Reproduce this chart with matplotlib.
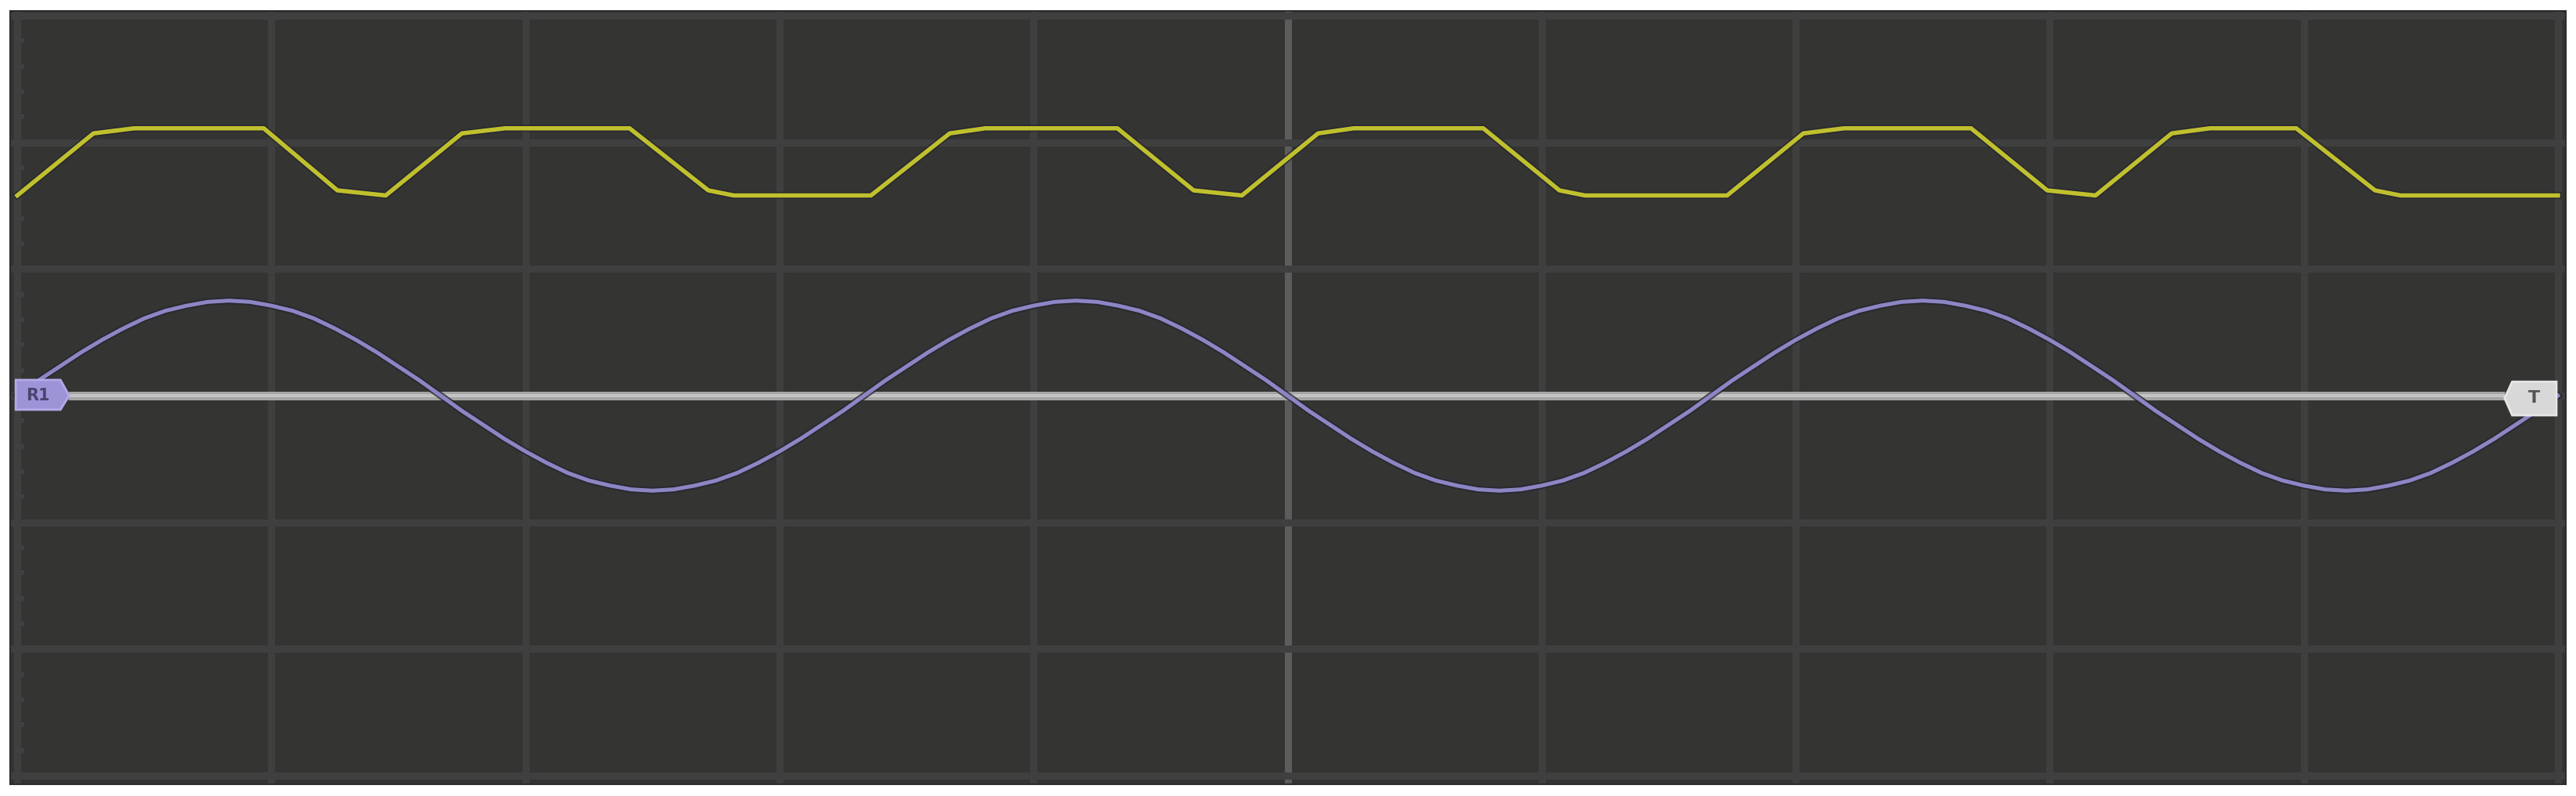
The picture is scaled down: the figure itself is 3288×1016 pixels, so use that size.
import numpy as np
import matplotlib
matplotlib.use("Agg")
import matplotlib.pyplot as plt
import matplotlib.patheffects as pe
from matplotlib.patches import Polygon

# Scope screen: 10 horizontal divisions, 6 vertical divisions (centre = 0)
n_xdiv = 10
n_ydiv = 6

# Channel 1 (yellow): trapezoid digital-like signal, vertex positions in divisions
yellow_t = [0.00, 0.30, 0.46, 0.97, 1.26, 1.45, 1.75, 1.92, 2.41, 2.72, 2.82,
            3.36, 3.67, 3.81, 4.33, 4.63, 4.82, 5.12, 5.26, 5.77, 6.07, 6.17,
            6.73, 7.03, 7.19, 7.69, 7.99, 8.18, 8.48, 8.63, 8.97, 9.28, 9.38,
            10.00]
yellow_v = [1.58, 2.07, 2.11, 2.11, 1.62, 1.58, 2.07, 2.11, 2.11, 1.62, 1.58,
            1.58, 2.07, 2.11, 2.11, 1.62, 1.58, 2.07, 2.11, 2.11, 1.62, 1.58,
            1.58, 2.07, 2.11, 2.11, 1.62, 1.58, 2.07, 2.11, 2.11, 1.62, 1.58,
            1.58]

# Reference channel (purple): one period read off the screen, sampled every
# 1/12 division; the screen shows three identical periods
purple_dt = 1 / 12
purple_period = [0.00, 0.12, 0.23, 0.34, 0.44, 0.53, 0.61, 0.67, 0.71, 0.74,
                 0.75, 0.74, 0.71, 0.67, 0.61, 0.53, 0.44, 0.34, 0.23, 0.12,
                 0.00, -0.12, -0.23, -0.34, -0.44, -0.53, -0.61, -0.67, -0.71, -0.74,
                 -0.75, -0.74, -0.71, -0.67, -0.61, -0.53, -0.44, -0.34, -0.23, -0.12]
purple_v = purple_period * 3 + [0.00]
purple_t = np.arange(len(purple_v)) * purple_dt

# Gray trace (offset line)
gray_t = [0.20, 9.79]
gray_v = [0.0, 0.0]

left_label = "R1"
right_label = "T"

W, H, DPI = 3288, 1016, 100
fig = plt.figure(figsize=(W / DPI, H / DPI), dpi=DPI, facecolor="white")
ax = fig.add_axes([13 / W, 15 / H, 3262 / W, 987 / H])
ax.set_facecolor("#343433")
ax.set_xlim(-0.028, 10.031)
ax.set_ylim(-3.067, 3.036)
ax.set_xticks([])
ax.set_yticks([])
for s in ax.spines.values():
    s.set_color("#2c2c2c")
    s.set_linewidth(1.5)

px = 72 / DPI  # points per pixel

# grid
for i in range(n_xdiv + 1):
    c = "#5c5c5c" if i == n_xdiv // 2 else "#3f3f3f"
    ax.axvline(i, color=c, lw=9 * px, zorder=1)
for j in range(-n_ydiv // 2, n_ydiv // 2 + 1):
    ax.axhline(j, color="#3f3f3f", lw=9 * px, zorder=1)
# small ticks on the left graticule line
for k in range(-15, 16):
    if k % 5:
        ax.hlines(k / 5, -0.004, 0.028, color="#404040", lw=6 * px, zorder=1)

# traces
ax.plot(gray_t, gray_v, color="#a4a4a4", lw=11 * px, zorder=2,
        solid_capstyle="butt")
ax.plot(gray_t, gray_v, color="#c4c4c4", lw=4 * px, zorder=2,
        solid_capstyle="butt")

shadow = [pe.Stroke(linewidth=9 * px, foreground="#272730", alpha=0.8), pe.Normal()]
ax.plot(purple_t, purple_v, color="#8d86c4", lw=5 * px, zorder=3,
        path_effects=shadow)
ax.plot(yellow_t, yellow_v, color="#c0c02e", lw=5.5 * px, zorder=3,
        path_effects=shadow)

# channel markers
lm = Polygon([[-0.006, 0.124], [0.17, 0.124], [0.204, 0.0], [0.17, -0.111],
              [-0.006, -0.111]], closed=True, facecolor="#9d94d8",
             edgecolor="#b3abe6", lw=2, zorder=4)
ax.add_patch(lm)
ax.text(0.082, 0.0, left_label, color="#4b4470", fontsize=15,
        fontweight="bold", ha="center", va="center", zorder=5)
rm = Polygon([[9.79, -0.02], [9.82, 0.11], [9.994, 0.11], [9.994, -0.155],
              [9.82, -0.155]], closed=True, facecolor="#d8d8d8",
             edgecolor="#e6e6e6", lw=2, zorder=4)
ax.add_patch(rm)
ax.text(9.905, -0.02, right_label, color="#555555", fontsize=16,
        fontweight="bold", ha="center", va="center", zorder=5)

fig.savefig("out.png", dpi=DPI, facecolor="white")
